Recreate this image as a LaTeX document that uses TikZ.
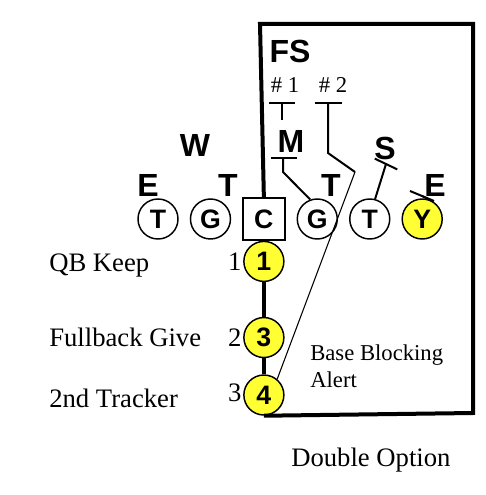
\documentclass[tikz,border=0pt]{standalone}
\usepackage{fontspec}
\setmainfont{Liberation Serif}
\newfontfamily\playerfont{Liberation Sans}
\usetikzlibrary{positioning}
\definecolor{ballyellow}{RGB}{255,255,51}

\begin{document}
\begin{tikzpicture}[x=0.75pt, y=-0.75pt,
node distance=8.25pt,
player/.style={circle, draw=black, line width=1.1pt, minimum size=30pt, inner sep=0pt,
  font=\fontsize{20}{20}\selectfont\playerfont\bfseries},
carrier/.style={player, fill=ballyellow},
centerbox/.style={rectangle, draw=black, line width=1.5pt, minimum size=31pt, inner sep=0pt,
  font=\fontsize{20}{20}\selectfont\playerfont\bfseries},
defender/.style={inner sep=0pt, font=\fontsize{24}{24}\selectfont\playerfont\bfseries},
playtext/.style={anchor=west, inner sep=0pt, font=\fontsize{20}{20}\selectfont},
block/.style={draw=black, line width=1.5pt},
spine/.style={draw=black, line width=3pt}
]
    \useasboundingbox (0,0) rectangle (485,495);

    %Offensive line
    \node[player]       (lt)    at (158,219)    {T};
    \node[player]       (lg)    [right=of lt]   {G};
    \node[centerbox]    (c)     [right=of lg]   {C};
    \node[player]       (rg)    [right=of c]    {G};
    \node[player]       (rt)    [right=of rg]   {T};
    \node[carrier]      (te)    [right=of rt]   {Y};

    %Backs
    \node[carrier]      (q1)    [below=0pt of c]    {1};
    \node[carrier]      (q3)    [below=26pt of q1]  {3};
    \node[carrier]      (q4)    [below=12pt of q3]  {4};

    %Defense
    \node[defender]     (de1)   at (148,185)    {E};
    \node[defender]     (dt1)   at (228,185)    {T};
    \node[defender]     (w)     at (195,145)    {W};
    \node[defender]     (m)     at (291,141)    {M};
    \node[defender]     (dt2)   at (331,185)    {T};
    \node[defender]     (s)     at (385,148)    {S};
    \node[defender]     (de2)   at (435,185)    {E};
    \node[defender]     (fs)    at (290,51)     {FS};
    \node[inner sep=0pt, font=\fontsize{17}{17}\selectfont] (n1) at (285,85) {\# 1};
    \node[inner sep=0pt, font=\fontsize{17}{17}\selectfont] (n2) at (333,85) {\# 2};

    %Texts
    \node[playtext]     (keep)  at (49,266)     {QB Keep};
    \node[playtext]     (give)  at (49,337)     {Fullback Give};
    \node[playtext]     (track) at (49,398)     {2nd Tracker};
    \node[inner sep=1pt, font=\fontsize{20}{20}\selectfont] (k1) [left=0pt of q1] {1};
    \node[inner sep=1pt, font=\fontsize{20}{20}\selectfont] (k2) [left=0pt of q3] {2};
    \node[inner sep=1pt, font=\fontsize{20}{20}\selectfont] (k3) [left=0pt of q4, yshift=2pt] {3};
    \node[playtext, font=\fontsize{17}{20}\selectfont, align=left, anchor=north west]
        (alert) at (310,345) {Base Blocking\\Alert};
    \node[playtext]     (title) at (291,460)    {Double Option};

    %Box and spine
    \draw[spine] (c.north) -- (260,24) -- (473,24) -- (473,413) -- (q4.south);
    \draw[spine] (q1) -- (q3);
    \draw[spine] (q3) -- (q4);

    %Blocking
    \draw[block] (269,103) -- (295,103);
    \draw[block] (282,103) -- (282,120);
    \draw[block] (315,103) -- (342,103);
    \draw[block] (328,103) -- (328,153) -- (355,172);
    \draw[draw=black, line width=0.8pt] (355,172) -- (q4.50);
    \draw[block] (271,158) -- (297,158);
    \draw[block] (283,158) -- (283,172) -- (rg.110);
    \draw[block] (374.7,158.6) -- (397.3,169.4);
    \draw[block] (386,164) -- (rt.75);
    \draw[block] (410,191) -- (434,201);
    \draw[block] (422,196) -- (te.70);
\end{tikzpicture}
\end{document}
